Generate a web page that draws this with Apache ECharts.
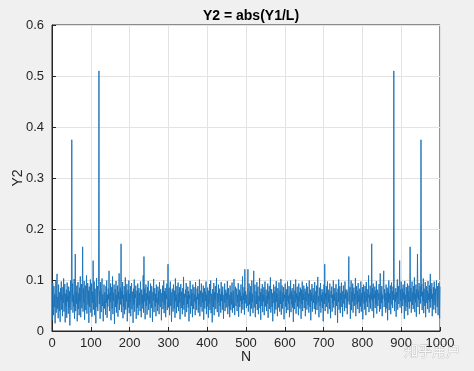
<!DOCTYPE html>
<html><head><meta charset="utf-8">
<script src="https://cdn.jsdelivr.net/npm/echarts@6/dist/echarts.min.js"></script>
<style>html,body{margin:0;padding:0;background:#f0f0f0;}#c{width:474px;height:371px;}</style>
</head><body><div id="c"></div>
<script>
const titleText = 'Y2 = abs(Y1/L)';
const xName = 'N';
const yName = 'Y2';
const xTicks = [0,100,200,300,400,500,600,700,800,900,1000];
const yTicks = [0,0.1,0.2,0.3,0.4,0.5,0.6];
// Y2 values for N = 1..500
const y2First = [
.021,.094,.063,.031,.088,.047,.072,.015,.058,.099,.036,.081,.112,.044,.067,.025,.091,.053,.039,.076,.018,.084,.061,.097,.042,
.071,.029,.086,.055,.103,.038,.064,.092,.017,.073,.049,.081,.026,.095,.058,.069,.034,.087,.046,.078,.011,.062,.099,.041,.083,
.375,.057,.093,.036,.071,.048,.102,.024,.065,.151,.039,.077,.054,.089,.019,.068,.096,.043,.074,.031,.085,.058,.107,.027,.063,
.092,.045,.071,.165,.038,.083,.056,.098,.022,.067,.089,.041,.073,.109,.034,.061,.094,.052,.079,.016,.087,.047,.071,.101,.036,
.064,.093,.028,.077,.055,.138,.042,.069,.097,.031,.083,.058,.015,.072,.104,.047,.088,.039,.066,.091,.510,.053,.078,.024,.096,
.061,.037,.085,.103,.049,.072,.019,.058,.091,.044,.076,.067,.032,.088,.055,.099,.026,.071,.048,.083,.062,.118,.039,.074,.057,
.093,.021,.068,.086,.044,.107,.033,.075,.059,.091,.014,.065,.082,.047,.098,.036,.071,.054,.089,.028,.077,.062,.113,.041,.069,
.085,.052,.171,.037,.079,.063,.096,.025,.071,.048,.088,.033,.067,.105,.042,.076,.058,.092,.019,.064,.081,.046,.099,.035,.073,
.057,.088,.029,.069,.094,.043,.077,.061,.016,.083,.052,.101,.038,.072,.065,.089,.024,.058,.079,.046,.093,.031,.068,.084,.051,
.075,.039,.097,.062,.027,.081,.054,.071,.044,.109,.036,.146,.058,.083,.023,.067,.091,.049,.074,.032,.086,.061,.098,.041,.069,
.054,.079,.026,.093,.063,.045,.088,.071,.018,.076,.059,.102,.037,.068,.084,.048,.073,.029,.091,.056,.064,.039,.087,.052,.078,
.033,.096,.061,.047,.082,.069,.021,.074,.057,.089,.043,.066,.099,.035,.078,.052,.084,.027,.071,.063,.093,.041,.058,.131,.046,
.072,.085,.031,.064,.097,.049,.076,.018,.069,.083,.055,.038,.091,.067,.044,.079,.026,.103,.058,.071,.035,.088,.062,.047,.095,
.039,.074,.056,.086,.023,.068,.092,.045,.077,.061,.033,.084,.051,.106,.042,.073,.059,.028,.081,.066,.094,.037,.069,.053,.087,
.046,.078,.019,.071,.063,.098,.034,.057,.082,.049,.074,.027,.091,.065,.043,.086,.058,.072,.031,.096,.054,.067,.041,.083,.062,
.088,.036,.073,.052,.101,.029,.064,.079,.047,.093,.061,.038,.075,.056,.089,.022,.068,.084,.044,.077,.059,.097,.033,.071,.048,
.085,.063,.026,.079,.054,.092,.041,.067,.099,.035,.073,.058,.017,.082,.066,.047,.094,.031,.076,.061,.088,.043,.069,.104,.052,
.037,.074,.057,.091,.028,.065,.083,.049,.072,.036,.096,.059,.078,.042,.087,.064,.024,.071,.055,.093,.039,.068,.081,.046,.075,
.062,.098,.033,.057,.084,.048,.071,.027,.089,.063,.041,.076,.052,.095,.036,.068,.079,.045,.102,.058,.031,.073,.087,.049,.066,
.083,.039,.071,.056,.094,.028,.064,.081,.047,.076,.059,.091,.035,.069,.053,.107,.042,.074,.061,.086,.032,.121,.054,.078,.067
];
// Y2 values for N = 501..1000
const y2Second = [
.045,
.071,.049,.085,.121,.038,.066,.093,.052,.077,.029,.088,.061,.044,.099,.057,.073,.035,.082,.118,.046,.069,.091,.027,.064,.078,
.053,.096,.041,.072,.087,.033,.068,.059,.104,.045,.076,.022,.083,.063,.049,.092,.037,.071,.058,.086,.031,.074,.097,.048,.065,
.081,.039,.069,.054,.093,.026,.077,.062,.088,.043,.071,.105,.036,.059,.082,.047,.074,.019,.066,.091,.055,.078,.034,.087,.063,
.042,.098,.057,.073,.029,.084,.061,.046,.095,.068,.038,.079,.053,.102,.032,.067,.089,.044,.075,.058,.086,.023,.071,.064,.093,
.048,.076,.035,.082,.059,.097,.041,.069,.054,.088,.027,.073,.063,.099,.037,.078,.052,.084,.046,.071,.018,.092,.067,.043,.079,
.056,.101,.034,.074,.062,.087,.048,.069,.031,.093,.057,.076,.044,.085,.065,.024,.081,.053,.097,.039,.072,.061,.089,.045,.068,
.083,.029,.077,.058,.094,.042,.066,.087,.051,.073,.036,.099,.062,.047,.081,.021,.075,.059,.092,.038,.069,.084,.055,.071,.043,
.096,.064,.033,.078,.052,.089,.041,.073,.106,.057,.068,.027,.085,.063,.049,.094,.036,.071,.058,.082,.045,.076,.019,.067,.091,
.053,.131,.039,.074,.062,.088,.047,.069,.097,.034,.081,.056,.072,.043,.093,.061,.025,.078,.065,.087,.038,.071,.054,.099,.046,
.073,.059,.084,.031,.068,.092,.049,.076,.063,.016,.083,.057,.101,.042,.069,.088,.035,.074,.061,.095,.047,.078,.028,.066,.089,
.054,.072,.039,.097,.063,.081,.045,.069,.081,.033,.076,.058,.091,.146,.052,.071,.086,.024,.064,.099,.041,.077,.058,.093,.036,
.068,.085,.049,.073,.061,.104,.029,.067,.088,.052,.079,.043,.094,.057,.071,.035,.083,.066,.048,.097,.038,.074,.059,.086,.023,
.069,.091,.054,.077,.042,.088,.063,.031,.096,.058,.073,.047,.082,.065,.109,.037,.071,.056,.089,.044,.076,.062,.171,.039,.084,
.058,.093,.026,.072,.064,.087,.045,.079,.053,.098,.034,.069,.081,.049,.074,.061,.092,.038,.067,.113,.043,.076,.055,.088,.029,
.071,.063,.097,.118,.047,.082,.059,.074,.036,.091,.068,.044,.085,.021,.077,.056,.099,.041,.073,.062,.089,.033,.069,.095,.052,
.078,.045,.087,.061,.510,.093,.039,.072,.057,.084,.028,.076,.065,.101,.042,.069,.088,.053,.074,.138,.046,.081,.059,.097,.035,
.067,.083,.049,.091,.062,.076,.024,.098,.055,.071,.039,.086,.064,.047,.093,.031,.078,.057,.089,.044,.072,.165,.058,.084,.036,
.069,.097,.051,.076,.043,.088,.062,.105,.037,.073,.056,.091,.028,.082,.065,.151,.047,.079,.061,.094,.033,.071,.087,.054,.375,
.068,.092,.041,.077,.059,.103,.035,.083,.064,.049,.096,.027,.072,.088,.055,.079,.043,.098,.061,.074,.036,.089,.057,.112,.046,
.081,.063,.094,.029,.073,.058,.086,.042,.097,.067,.051,.083,.035,.076,.099,.061,.047,.088,.031,.072,.094,.063,.025,.087
];
const y2 = y2First.concat(y2Second);
const seriesData = y2.map((v, i) => [i + 1, v]);

const chart = echarts.init(document.getElementById('c'), null, {renderer: 'canvas'});
const axisFont = {fontFamily: 'Liberation Sans, Arial, sans-serif', fontSize: 13, color: '#262626'};
chart.setOption({
  animation: false,
  backgroundColor: '#f0f0f0',
  title: {
    text: titleText, left: 246, top: 4, textAlign: 'center',
    textStyle: {fontFamily: 'Liberation Sans, Arial, sans-serif', fontSize: 14, fontWeight: 'bold', color: '#000'}
  },
  grid: {left: 52, right: 34, top: 25, bottom: 40, containLabel: false, outerBoundsMode: 'none',
         show: true, backgroundColor: '#fff', borderColor: '#262626', borderWidth: 1},
  xAxis: {
    type: 'value', min: xTicks[0], max: xTicks[xTicks.length - 1], interval: 100,
    name: xName, nameLocation: 'middle', nameGap: 19, nameMoveOverlap: false,
    nameTextStyle: {fontFamily: 'Liberation Sans, Arial, sans-serif', fontSize: 14, color: '#262626', verticalAlign: 'top', padding: [0,0,0,0]},
    axisLine: {show: true, lineStyle: {color: '#262626', width: 1}},
    axisTick: {show: true, inside: true, length: 4, lineStyle: {color: '#262626'}},
    axisLabel: Object.assign({margin: 6, formatter: v => String(v), hideOverlap: false}, axisFont),
    splitLine: {show: true, lineStyle: {color: '#e3e3e3', width: 1}}
  },
  yAxis: {
    type: 'value', min: yTicks[0], max: yTicks[yTicks.length - 1], interval: 0.1,
    name: yName, nameLocation: 'middle', nameGap: 27, nameRotate: 90, nameMoveOverlap: false,
    nameTextStyle: {fontFamily: 'Liberation Sans, Arial, sans-serif', fontSize: 14, color: '#262626'},
    axisLine: {show: true, lineStyle: {color: '#262626', width: 1}},
    axisTick: {show: true, inside: true, length: 4, lineStyle: {color: '#262626'}},
    axisLabel: Object.assign({margin: 8, formatter: v => String(Math.round(v * 10) / 10)}, axisFont),
    splitLine: {show: true, lineStyle: {color: '#e3e3e3', width: 1}}
  },
  series: [{
    type: 'line', data: seriesData, symbol: 'none', showSymbol: false,
    lineStyle: {color: '#1a72b8', width: 0.9}
  }],
  graphic: [{
    type: 'text', left: 404, top: 343,
    style: {text: '知乎用户', font: '14px "Noto Sans CJK SC", sans-serif', fill: 'rgba(255,255,255,0.85)', stroke: 'rgba(120,120,120,0.5)', lineWidth: 0.6}
  }]
});
</script>
</body></html>
